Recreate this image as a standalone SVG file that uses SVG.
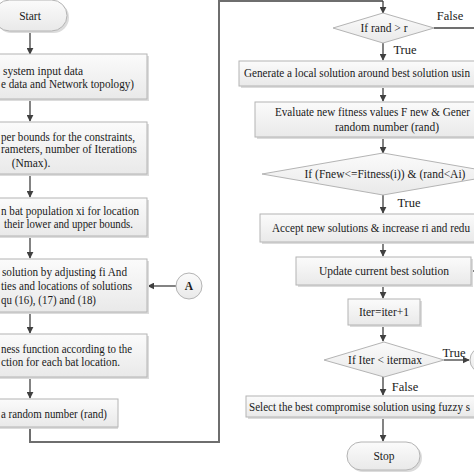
<svg xmlns="http://www.w3.org/2000/svg" width="474" height="474" viewBox="0 0 474 474">
<defs>
<linearGradient id="g" x1="0" y1="0" x2="0" y2="1">
<stop offset="0" stop-color="#fbfbfb"/>
<stop offset="1" stop-color="#e9e9e9"/>
</linearGradient>
<marker id="ah" viewBox="0 0 10 10" refX="9" refY="5" markerWidth="7" markerHeight="7" markerUnits="userSpaceOnUse" orient="auto">
<path d="M0,0 L10,5 L0,10 z" fill="#404040"/>
</marker>
</defs>
<style>
.b{fill:url(#g);stroke:#b4b4b4;stroke-width:1}
.s{fill:#dcdcdc;stroke:none}
.t{font-family:"Liberation Serif","Times New Roman",serif;font-size:11.5px;fill:#1a1a1a}
.lb{font-size:12.5px}
.c{stroke:#404040;stroke-width:1.3;fill:none}
.l{stroke:#6e6e6e;stroke-width:2;fill:none}
</style>
<rect width="474" height="474" fill="#ffffff"/>

<g id="connectors">
<path class="c" d="M30,32 V54" marker-end="url(#ah)"/>
<path class="c" d="M30,99 V121" marker-end="url(#ah)"/>
<path class="c" d="M30,174 V197" marker-end="url(#ah)"/>
<path class="c" d="M30,236 V258" marker-end="url(#ah)"/>
<path class="c" d="M176,286 H148" marker-end="url(#ah)"/>
<path class="c" d="M30,312 V333" marker-end="url(#ah)"/>
<path class="c" d="M30,377 V398" marker-end="url(#ah)"/>
<path class="l" d="M30,427 V442 H219 V1 H383"/>
<path class="c" d="M383,1 V13" marker-end="url(#ah)"/>
<path class="c" d="M434,28 H474"/>
<path class="c" d="M383,43 V60" marker-end="url(#ah)"/>
<path class="c" d="M383,86 V101" marker-end="url(#ah)"/>
<path class="c" d="M383,137 V153" marker-end="url(#ah)"/>
<path class="c" d="M383,195 V213" marker-end="url(#ah)"/>
<path class="c" d="M383,242 V256" marker-end="url(#ah)"/>
<path class="c" d="M471,271 H474"/>
<path class="c" d="M383,285 V298" marker-end="url(#ah)"/>
<path class="c" d="M383,325 V341" marker-end="url(#ah)"/>
<path class="c" d="M444,360 H469" marker-end="url(#ah)"/>
<path class="c" d="M383,377 V395" marker-end="url(#ah)"/>
<path class="c" d="M383,417 V441" marker-end="url(#ah)"/>
<text class="t lb" x="450" y="20" text-anchor="middle">False</text>
<text class="t lb" x="405" y="54" text-anchor="middle">True</text>
<text class="t lb" x="409" y="207" text-anchor="middle">True</text>
<text class="t lb" x="454" y="357" text-anchor="middle">True</text>
<text class="t lb" x="405" y="391" text-anchor="middle">False</text>
</g>

<g id="start">
<rect class="s" x="-4" y="2" width="73" height="31" rx="15.5"/>
<rect class="b" x="-6" y="0" width="73" height="31" rx="15.5"/>
<text class="t" x="30" y="20" text-anchor="middle">Start</text>
</g>

<g id="read-input">
<rect class="s" x="-88" y="56" width="237" height="45"/>
<rect class="b" x="-90" y="54" width="237" height="45"/>
<text class="t" x="3" y="75" textLength="80" lengthAdjust="spacingAndGlyphs">system input data</text>
<text class="t" x="1" y="88" textLength="133" lengthAdjust="spacingAndGlyphs">e data and Network topology)</text>
</g>

<g id="bounds">
<rect class="s" x="-88" y="124" width="237" height="52"/>
<rect class="b" x="-90" y="122" width="237" height="52"/>
<text class="t" x="1" y="141" textLength="134" lengthAdjust="spacingAndGlyphs">per bounds for the constraints,</text>
<text class="t" x="1" y="153" textLength="136" lengthAdjust="spacingAndGlyphs">rameters, number of Iterations</text>
<text class="t" x="31" y="167" text-anchor="middle">(Nmax).</text>
</g>

<g id="population">
<rect class="s" x="-88" y="200" width="237" height="38"/>
<rect class="b" x="-90" y="198" width="237" height="38"/>
<text class="t" x="1" y="215" textLength="138" lengthAdjust="spacingAndGlyphs">n bat population xi for location</text>
<text class="t" x="4" y="228" textLength="129" lengthAdjust="spacingAndGlyphs">their lower and upper bounds.</text>
</g>

<g id="new-solution">
<rect class="s" x="-88" y="261" width="237" height="53"/>
<rect class="b" x="-90" y="259" width="237" height="53"/>
<text class="t" x="2" y="276" textLength="125" lengthAdjust="spacingAndGlyphs">solution by adjusting fi And</text>
<text class="t" x="1" y="290" textLength="131" lengthAdjust="spacingAndGlyphs">ties and locations of solutions</text>
<text class="t" x="1" y="304" textLength="95" lengthAdjust="spacingAndGlyphs">qu (16), (17) and (18)</text>
</g>

<g id="connector-a">
<circle cx="189" cy="286" r="13" fill="url(#g)" stroke="#b4b4b4"/>
<text class="t" x="189" y="290" text-anchor="middle" font-weight="bold" font-size="10">A</text>
</g>

<g id="fitness">
<rect class="s" x="-88" y="336" width="237" height="43"/>
<rect class="b" x="-90" y="334" width="237" height="43"/>
<text class="t" x="1" y="353" textLength="131" lengthAdjust="spacingAndGlyphs">ness function according to the</text>
<text class="t" x="1" y="366" textLength="119" lengthAdjust="spacingAndGlyphs">ction for each bat location.</text>
</g>

<g id="random">
<rect class="s" x="-58" y="401" width="176" height="28"/>
<rect class="b" x="-60" y="399" width="178" height="28"/>
<text class="t" x="1" y="418" textLength="106" lengthAdjust="spacingAndGlyphs">a random number (rand)</text>
</g>

<g id="if-rand">
<polygon class="b" points="383,13 434,28 383,43 333,28"/>
<text class="t" x="384" y="32" text-anchor="middle">If  rand &gt; r</text>
</g>

<g id="local-solution">
<rect class="s" x="241" y="63" width="240" height="25"/>
<rect class="b" x="239" y="61" width="240" height="25"/>
<text class="t" x="244" y="77" textLength="226" lengthAdjust="spacingAndGlyphs">Generate a local solution around best solution usin</text>
</g>

<g id="evaluate">
<rect class="s" x="257" y="104" width="225" height="35"/>
<rect class="b" x="255" y="102" width="225" height="35"/>
<text class="t" x="275" y="116" textLength="195" lengthAdjust="spacingAndGlyphs">Evaluate new fitness values F new &amp; Gener</text>
<text class="t" x="387" y="131" text-anchor="middle">random number (rand)</text>
</g>

<g id="if-fnew">
<polygon class="b" points="383,153 504,174 383,195 262,174"/>
<text class="t" x="385" y="178" text-anchor="middle">If (Fnew&lt;=Fitness(i)) &amp; (rand&lt;Ai)</text>
</g>

<g id="accept">
<rect class="s" x="262" y="216" width="220" height="28"/>
<rect class="b" x="260" y="214" width="220" height="28"/>
<text class="t" x="272" y="232" textLength="198" lengthAdjust="spacingAndGlyphs">Accept new solutions &amp; increase ri and redu</text>
</g>

<g id="update">
<rect class="s" x="298" y="259" width="175" height="28"/>
<rect class="b" x="296" y="257" width="175" height="28"/>
<text class="t" x="384" y="275" text-anchor="middle">Update current best solution</text>
</g>

<g id="iter">
<rect class="s" x="350" y="301" width="72" height="26"/>
<rect class="b" x="348" y="299" width="72" height="26"/>
<text class="t" x="384" y="316" text-anchor="middle">Iter=iter+1</text>
</g>

<g id="if-iter">
<polygon class="b" points="384,342 444,360 384,377 324,360"/>
<text class="t" x="385" y="364" text-anchor="middle">If Iter &lt; itermax</text>
</g>

<g id="connector-a2">
<circle cx="483" cy="360" r="13" fill="url(#g)" stroke="#b4b4b4"/>
</g>

<g id="select">
<rect class="s" x="248" y="398" width="235" height="21"/>
<rect class="b" x="246" y="396" width="235" height="21"/>
<text class="t" x="249" y="411" textLength="221" lengthAdjust="spacingAndGlyphs">Select the best compromise solution using fuzzy s</text>
</g>

<g id="stop">
<rect class="s" x="349" y="444" width="73" height="28" rx="14"/>
<rect class="b" x="347" y="442" width="73" height="28" rx="14"/>
<text class="t" x="384" y="460" text-anchor="middle">Stop</text>
</g>
</svg>
